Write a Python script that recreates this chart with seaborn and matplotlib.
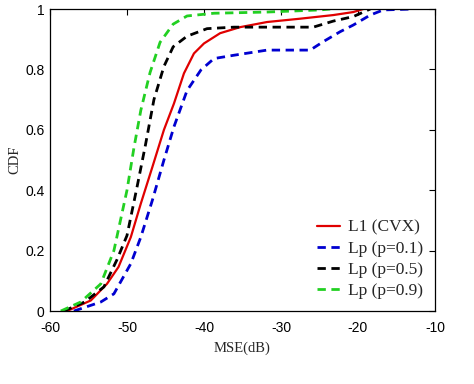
import numpy as np
import pandas as pd
import seaborn as sns
import matplotlib.pyplot as plt

# CDF curves (x = MSE in dB, y = CDF)
l1_x = [-57.8, -54.7, -52.6, -51.1, -49.5, -48.2, -46.7, -45.2, -43.9, -42.6, -41.3, -40.0, -37.9, -35.3, -31.8, -27.5, -23.2, -20.6, -19.3]
l1_y = [0.0, 0.035, 0.09, 0.146, 0.245, 0.356, 0.477, 0.60, 0.687, 0.787, 0.853, 0.886, 0.92, 0.94, 0.957, 0.968, 0.98, 0.99, 1.0]

p01_x = [-56.9, -53.4, -51.7, -49.5, -48.2, -46.7, -45.2, -43.9, -42.2, -40.4, -38.7, -36.1, -31.8, -26.2, -24.5, -22.3, -20.6, -18.4, -16.7, -12.8]
p01_y = [0.0, 0.03, 0.057, 0.157, 0.245, 0.367, 0.50, 0.61, 0.73, 0.798, 0.836, 0.847, 0.864, 0.864, 0.892, 0.925, 0.947, 0.98, 0.997, 1.0]

p05_x = [-58.2, -55.5, -53.0, -51.3, -50.0, -48.7, -47.6, -46.5, -45.2, -44.0, -42.2, -39.6, -36.1, -25.8, -23.2, -20.6, -18.4]
p05_y = [0.0, 0.03, 0.08, 0.17, 0.25, 0.41, 0.55, 0.70, 0.81, 0.875, 0.91, 0.935, 0.94, 0.94, 0.96, 0.975, 1.0]

p09_x = [-58.6, -56.0, -53.4, -51.7, -50.0, -49.1, -48.2, -47.0, -45.7, -44.0, -42.2, -38.7, -31.8, -24.9, -23.6]
p09_y = [0.0, 0.03, 0.09, 0.20, 0.40, 0.54, 0.665, 0.79, 0.89, 0.95, 0.977, 0.986, 0.99, 0.997, 1.0]

labels = ['L1 (CVX)', 'Lp (p=0.1)', 'Lp (p=0.5)', 'Lp (p=0.9)']
colors = ['#e00000', '#0000d0', 'black', '#22d022']

sns.set_style('white')
plt.rcParams['axes.unicode_minus'] = False
plt.rcParams['font.family'] = ['Liberation Sans', 'DejaVu Sans']

fig = plt.figure(figsize=(4.74, 3.84), dpi=100)
ax = fig.add_axes([0.1055, 0.19, 0.812, 0.7865])

series = [(l1_x, l1_y), (p01_x, p01_y), (p05_x, p05_y), (p09_x, p09_y)]
for (xs, ys), lab, col in zip(series, labels, colors):
    d = pd.DataFrame({'x': xs, 'y': ys})
    if lab.startswith('L1'):
        sns.lineplot(data=d, x='x', y='y', ax=ax, color=col, lw=1.6, label=lab)
    else:
        sns.lineplot(data=d, x='x', y='y', ax=ax, color=col, lw=2.0,
                     dashes=False, label=lab)
        ax.lines[-1].set_dashes([3, 2])

ax.set_xlim(-60, -10)
ax.set_ylim(0, 1)
ax.set_xticks([-60, -50, -40, -30, -20, -10])
ax.set_yticks([0, 0.2, 0.4, 0.6, 0.8, 1])
ax.set_yticklabels(['0', '0.2', '0.4', '0.6', '0.8', '1'])
ax.tick_params(direction='in', length=4, width=0.8, top=True, right=True,
               labelsize=10, colors='black')
ax.tick_params(axis='x', pad=7)
ax.tick_params(axis='y', pad=4)
for s in ax.spines.values():
    s.set_color('black')
    s.set_linewidth(0.9)

ax.set_xlabel('MSE(dB)', family='Liberation Serif', fontsize=10.5, labelpad=5)
ax.set_ylabel('CDF', family='Liberation Serif', fontsize=10.5, labelpad=3)

leg = ax.legend(loc='lower right', frameon=False, handlelength=1.3,
                handletextpad=0.45, labelspacing=0.28, borderaxespad=0.3,
                prop={'family': 'Liberation Serif', 'size': 12.5})

fig.savefig('out.png', dpi=100)
